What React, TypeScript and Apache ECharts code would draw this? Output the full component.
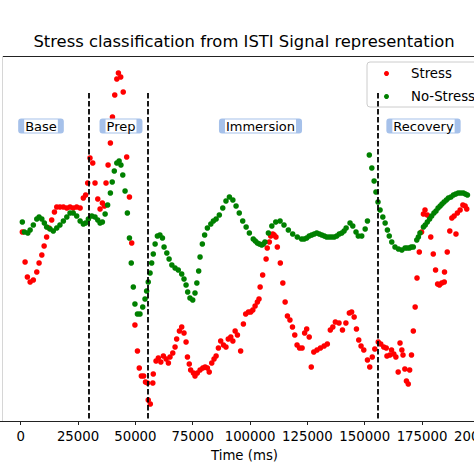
import * as echarts from "echarts"
import { useEffect, useRef } from "react"

const TITLE = "Stress classification from ISTI Signal representation"
const X_NAME = "Time (ms)"
const SERIES_NAMES = ["Stress", "No-Stress"]
const PHASES = ["Base", "Prep", "Immersion", "Recovery"]
// phase boundaries (ms) and the height the dashed markers reach
const PHASE_BOUNDS = [29800, 55400, 155700]
const BOUND_TOP = 328
const X_MIN = -25000
const X_MAX = 225000
const X_STEP = 25000

// [time ms, level]
const stressPoints: [number, number][] = [
  [700, 189], [1900, 159], [2900, 144], [4100, 139], [5500, 141], [7000, 149], [8000, 158], [9200, 166],
  [10200, 175], [11300, 184], [12300, 193], [13500, 201], [14700, 209], [15700, 214], [17100, 214],
  [18600, 214], [20100, 213], [21500, 214], [22900, 213], [24400, 214], [25900, 213], [27300, 223],
  [28300, 226], [29200, 238], [30200, 263], [31400, 258], [32400, 238], [33600, 222], [34600, 212],
  [35600, 218], [36500, 215], [37200, 238], [38100, 256], [39100, 278], [40000, 304], [41000, 326],
  [41900, 342], [42600, 348], [43600, 344], [44700, 329], [46200, 264], [47400, 224], [48400, 178],
  [49800, 96], [50900, 70], [51700, 53], [52600, 45], [53600, 45], [54400, 39], [55300, 38], [55600, 21],
  [56500, 17], [57600, 38], [57800, 47], [59000, 60], [60000, 63], [61100, 59], [62200, 65], [63400, 62],
  [64400, 58], [65100, 64], [66300, 68], [67300, 74], [68000, 82], [69200, 90], [70200, 94], [71200, 88],
  [72100, 79], [72700, 64], [73500, 57], [74100, 51], [75300, 48], [76000, 45], [77000, 48], [78200, 51],
  [79400, 53], [80400, 54], [81400, 53], [82200, 49], [83300, 58], [84300, 62], [85200, 65], [86200, 73],
  [87200, 80], [88400, 76], [89500, 74], [90500, 82], [91600, 84], [92500, 80], [93500, 90], [94500, 86],
  [95900, 70], [97100, 97], [98100, 107], [99300, 109], [100300, 109], [101200, 111], [102200, 115],
  [103200, 119], [103900, 122], [104400, 134], [105500, 146], [107000, 162], [107500, 173], [108400, 179],
  [109000, 185], [109900, 187], [110500, 186], [111300, 184], [111900, 174], [113200, 158], [114300, 138],
  [115300, 119], [116300, 105], [117400, 101], [118500, 94], [119500, 86], [120500, 76], [121600, 73],
  [122700, 73], [123800, 88], [124700, 92], [125800, 84], [126700, 54], [127800, 69], [129200, 71],
  [130700, 73], [132300, 75], [133700, 77], [135000, 91], [136100, 94], [137200, 99], [138800, 98],
  [140300, 91], [141800, 98], [143300, 108], [144300, 109], [145400, 104], [146400, 92], [147400, 81],
  [148400, 75], [149600, 71], [151200, 61], [152200, 54], [153300, 64], [154400, 72], [155900, 79],
  [157000, 77], [158300, 74], [159400, 73], [159700, 65], [161000, 66], [161700, 71], [162700, 67],
  [163600, 64], [164600, 49], [165400, 78], [166200, 71], [166700, 66], [167500, 52], [168200, 40],
  [169000, 37], [169600, 51], [170400, 66], [171200, 90], [172000, 114], [172800, 143], [173800, 169],
  [174800, 189], [175600, 207], [176300, 211], [177300, 206], [178800, 184], [179900, 167], [180900, 151],
  [181800, 137], [182600, 136], [183600, 138], [184700, 139], [184800, 149], [186000, 169], [187100, 190],
  [188000, 203], [189000, 205], [189800, 187], [190400, 208], [191600, 211], [192800, 216], [193800, 215],
  [194500, 212],
]

const noStressPoints: [number, number][] = [
  [700, 199], [1600, 189], [3100, 188], [4100, 191], [5500, 196], [7000, 202], [8000, 204], [9200, 202],
  [10300, 198], [11300, 194], [12800, 192], [14200, 190], [15700, 193], [17100, 196], [18600, 200],
  [20100, 204], [21500, 208], [22900, 208], [24400, 205], [25900, 200], [27300, 197], [28300, 198],
  [29500, 202], [31000, 205], [32400, 204], [33600, 201], [34600, 198], [35600, 199], [36800, 207],
  [37900, 216], [39100, 228], [39900, 239], [40800, 250], [41900, 258], [42900, 260], [43700, 256],
  [44500, 246], [45500, 230], [46500, 208], [47400, 183], [48200, 158], [49100, 134], [49800, 117],
  [50900, 107], [52000, 107], [53200, 114], [54200, 122], [54900, 130], [55600, 139], [56400, 148],
  [57100, 158], [57800, 167], [58600, 177], [59600, 185], [60700, 186], [61800, 183], [62500, 174],
  [63700, 168], [64700, 162], [65900, 156], [67300, 153], [68700, 151], [70200, 147], [71200, 142],
  [72100, 136], [72800, 129], [73800, 123], [75000, 121], [76000, 128], [76800, 138], [77600, 150],
  [78200, 164], [79200, 177], [80200, 186], [81400, 193], [82900, 197], [84000, 200], [85200, 202],
  [86600, 206], [88100, 213], [89500, 220], [91000, 224], [92500, 221], [93900, 215], [95300, 208],
  [96800, 200], [98300, 194], [99700, 188], [101400, 182], [102300, 180], [103200, 178], [104100, 177],
  [105100, 176], [105800, 177], [106500, 179], [108000, 188], [109500, 195], [111200, 199], [113100, 200],
  [114800, 196], [116700, 191], [118600, 187], [120600, 184], [122500, 182], [123600, 182], [124700, 183],
  [125800, 185], [126900, 186], [128000, 187], [129100, 188], [130200, 187], [131300, 186], [132400, 185],
  [133400, 184], [134500, 184], [135600, 184], [136700, 184], [137800, 185], [138900, 187], [140000, 188],
  [141000, 190], [141900, 193], [143600, 198], [144800, 195], [146200, 189], [147200, 185], [148700, 185],
  [150200, 192], [151200, 200], [152000, 266], [153100, 253], [154100, 240], [154900, 229], [155800, 219],
  [156700, 211], [157900, 204], [158900, 198], [159900, 191], [160700, 185], [161800, 179], [163200, 174],
  [164700, 172], [166200, 171], [167600, 173], [168500, 173], [169500, 173], [170300, 174], [171200, 174],
  [172700, 181], [173400, 184], [174100, 188], [175600, 194], [176400, 196], [177300, 199], [178300, 202],
  [179200, 205], [180200, 208], [181100, 210], [182000, 213], [182900, 215], [183700, 217], [184600, 219],
  [185600, 221], [186500, 223], [187600, 224], [188700, 226], [189700, 227], [190800, 228], [191900, 228],
  [193000, 228], [193900, 227], [194800, 226],
]

const FONT = "DejaVu Sans"
// the chart canvas is wider than the window and shifted left, so the axis runs past both edges
const SHIFT = 40
const CANVAS_W = 580
// where the phase tags sit (window px)
const PHASE_X = [41, 121, 260.5, 423.5]
const PHASE_Y = 126

export default function App() {
  const ref = useRef<HTMLDivElement>(null)

  useEffect(() => {
    if (!ref.current) return
    const chart = echarts.init(ref.current, null, { renderer: "svg" })

    const phaseTags = PHASES.map((p, i) => ({
      type: "text",
      x: PHASE_X[i] + SHIFT,
      y: PHASE_Y,
      z: 50,
      style: {
        text: `{w|${p}}`,
        align: "center",
        verticalAlign: "middle",
        backgroundColor: "#a6c1ea",
        borderRadius: 3,
        padding: [0, 6],
        rich: {
          w: {
            fontFamily: FONT,
            fontSize: 13,
            lineHeight: 15,
            fill: "#000",
            backgroundColor: "#fff",
            padding: [0, 1],
          },
        },
      },
    }))

    chart.setOption({
      animation: false,
      title: {
        text: TITLE,
        left: 244 + SHIFT,
        top: 33,
        textAlign: "center",
        padding: 0,
        textStyle: { fontFamily: FONT, fontSize: 16.4, fontWeight: "normal", color: "#000" },
      },
      legend: {
        orient: "vertical",
        left: 367 + SHIFT,
        top: 62,
        icon: "circle",
        itemWidth: 5,
        itemHeight: 5,
        itemGap: 8,
        padding: [4, 8, 3, 17],
        backgroundColor: "rgba(255,255,255,0.8)",
        borderColor: "#cccccc",
        borderWidth: 1,
        borderRadius: 3,
        textStyle: { fontFamily: FONT, fontSize: 13.3, color: "#000", lineHeight: 15, padding: [0, 0, 0, 17] },
        data: SERIES_NAMES,
      },
      grid: {
        left: SHIFT - 36.6,
        right: CANVAS_W - SHIFT - 536.7,
        top: 56,
        bottom: 53,
        outerBoundsMode: "none",
        containLabel: false,
      },
      xAxis: {
        type: "value",
        min: X_MIN,
        max: X_MAX,
        interval: X_STEP,
        splitLine: { show: false },
        axisLine: { lineStyle: { color: "#222", width: 1.2 } },
        axisTick: { length: 4, lineStyle: { color: "#222", width: 1 } },
        axisLabel: {
          fontFamily: FONT,
          fontSize: 13.3,
          color: "#000",
          margin: 9,
          formatter: (v: number) => String(v),
        },
      },
      yAxis: { type: "value", min: 0, max: 365, show: false },
      graphic: [
        {
          type: "line",
          shape: { x1: 2 + SHIFT, y1: 56.5, x2: 474 + SHIFT, y2: 56.5 },
          style: { stroke: "#222", lineWidth: 1.2 },
        },
        {
          type: "line",
          shape: { x1: 2.5 + SHIFT, y1: 56, x2: 2.5 + SHIFT, y2: 421 },
          style: { stroke: "#d6d6d6", lineWidth: 1 },
        },
        {
          type: "text",
          x: 244.5 + SHIFT,
          y: 455,
          style: { text: X_NAME, fontFamily: FONT, fontSize: 13.3, fill: "#000", align: "center", verticalAlign: "middle" },
        },
        ...phaseTags,
      ],
      series: [
        {
          name: SERIES_NAMES[0],
          type: "scatter",
          symbolSize: 5.6,
          itemStyle: { color: "#ff0000", opacity: 1 },
          data: stressPoints,
          markLine: {
            silent: true,
            symbol: "none",
            label: { show: false },
            lineStyle: { color: "#000", width: 1.8, type: [5.5, 2.5] },
            data: PHASE_BOUNDS.map((t) => [{ coord: [t, BOUND_TOP] }, { coord: [t, 0] }]),
          },
        },
        {
          name: SERIES_NAMES[1],
          type: "scatter",
          symbolSize: 5.6,
          itemStyle: { color: "#008000", opacity: 1 },
          data: noStressPoints,
        },
      ],
    })

    return () => chart.dispose()
  }, [])

  return (
    <div
      ref={ref}
      style={{ position: "fixed", left: -SHIFT, top: 0, width: CANVAS_W, height: 474, background: "#fff" }}
    />
  )
}
